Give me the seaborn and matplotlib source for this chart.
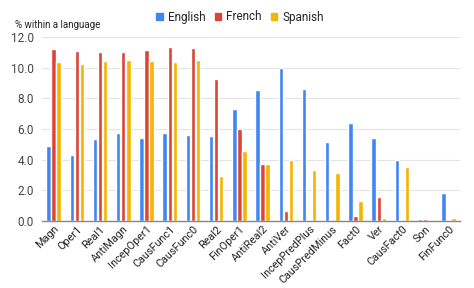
import numpy as np
import pandas as pd
import matplotlib
matplotlib.use("Agg")
import matplotlib.pyplot as plt
import seaborn as sns
from matplotlib.patches import Patch

categories = ["Magn", "Oper1", "Real1", "AntiMagn", "IncepOper1", "CausFunc1",
              "CausFunc0", "Real2", "FinOper1", "AntiReal2", "AntiVer",
              "IncepPredPlus", "CausPredMinus", "Fact0", "Ver", "CausFact0",
              "Son", "FinFunc0"]
english = [4.86, 4.31, 5.34, 5.75, 5.40, 5.73, 5.62, 5.55, 7.30, 8.52, 9.97,
           8.63, 5.17, 6.41, 5.40, 3.98, 0.10, 1.80]
french = [11.24, 11.07, 11.03, 11.03, 11.15, 11.35, 11.29, 9.26, 6.00, 3.70,
          0.65, 0.0, 0.0, 0.33, 1.58, 0.0, 0.10, 0.0]
spanish = [10.37, 10.22, 10.41, 10.52, 10.45, 10.37, 10.52, 2.96, 4.58, 3.70,
           3.99, 3.35, 3.11, 1.30, 0.20, 3.54, 0.0, 0.18]
languages = ["English", "French", "Spanish"]
colors = ["#4285F4", "#DB4437", "#F4B400"]
yticks = [0, 2, 4, 6, 8, 10, 12]

df = pd.DataFrame({
    "category": categories * 3,
    "language": ["English"] * len(categories) + ["French"] * len(categories)
                + ["Spanish"] * len(categories),
    "value": english + french + spanish,
})

sns.set_style("white")
plt.rcParams["font.family"] = ["Roboto", "DejaVu Sans"]

fig = plt.figure(figsize=(4.74, 2.88), dpi=100)
ax = fig.add_axes([42 / 474, 67 / 288, 418 / 474, 184 / 288])

sns.barplot(data=df, x="category", y="value", hue="language",
            palette=colors, width=0.65, gap=0.12, saturation=1,
            legend=False, ax=ax)

ax.set_ylim(0, 12)
ax.set_xlim(-0.5, len(categories) - 0.5)
ax.set_yticks(yticks)
ax.set_yticklabels([f"{v:.1f}" for v in yticks], fontsize=8.5, color="#444444")
ax.set_xticks(range(len(categories)))
ax.set_xticklabels(categories, rotation=45, ha="right", rotation_mode="anchor",
                   fontsize=7.8, color="#222222")
ax.tick_params(axis="x", length=0, pad=2)
ax.tick_params(axis="y", length=0, pad=6)
ax.grid(axis="y", color="#e4e4e4", linewidth=0.8)
ax.set_axisbelow(True)
for s in ["top", "right", "left"]:
    ax.spines[s].set_visible(False)
ax.spines["bottom"].set_color("#888888")
ax.spines["bottom"].set_linewidth(1.0)
ax.set_xlabel("")
ax.set_ylabel("")

fig.text(15 / 474, 1 - 25 / 288, "% within a language", fontsize=7,
         color="#222222", va="center", ha="left")

handles = [Patch(color=c) for c in colors]
fig.legend(handles, languages, loc="center", bbox_to_anchor=(240 / 474, 1 - 17 / 288),
           ncol=3, frameon=False, fontsize=8.5, handlelength=0.55,
           handleheight=0.55, handletextpad=0.4, columnspacing=0.8)

fig.savefig("out.png", dpi=100)
